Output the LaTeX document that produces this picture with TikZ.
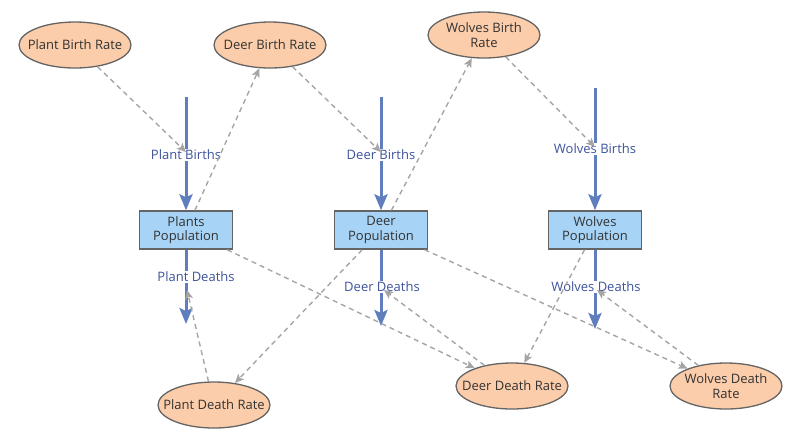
\documentclass[tikz,border=0pt]{standalone}
\usepackage{fontspec}
\setmainfont{Open Sans}
\usetikzlibrary{shapes.geometric,arrows.meta}
\definecolor{peach}{RGB}{252,205,170}
\definecolor{skyb}{RGB}{167,212,246}
\definecolor{edgeg}{RGB}{100,100,100}
\definecolor{flowb}{RGB}{96,125,190}
\definecolor{labb}{RGB}{62,84,155}
\definecolor{dashg}{RGB}{165,165,165}
\definecolor{txt}{RGB}{50,50,50}
\tikzset{
  rate/.style={ellipse,draw=edgeg,line width=1.3pt,fill=peach,minimum width=112pt,minimum height=46pt,inner xsep=-14pt,inner ysep=-6pt,align=center,text=txt,font=\fontsize{13}{14.5}\selectfont},
  stock/.style={rectangle,draw=edgeg,line width=1.5pt,fill=skyb,minimum width=93pt,minimum height=38pt,inner sep=0pt,align=center,text=txt,font=\fontsize{13}{14.5}\selectfont},
  flow/.style={draw=flowb,line width=3pt,-{Stealth[length=16pt,width=13pt,inset=3pt]}},
  flowlab/.style={fill=white,text=labb,inner sep=1pt,font=\fontsize{13}{14.5}\selectfont},
  link/.style={draw=dashg,line width=1.4pt,dash pattern=on 5pt off 4pt,-{Stealth[length=9pt,width=8pt,inset=2pt]}}
}
\begin{document}
\begin{tikzpicture}[x=1pt,y=-1pt]
\useasboundingbox (0,0) rectangle (800,440);
% rates
\node[rate] (pbr) at (75,45) {Plant Birth Rate};
\node[rate] (dbr) at (270,45) {Deer Birth Rate};
\node[rate] (wbr) at (484,35) {Wolves Birth\\Rate};
\node[rate] (pdr) at (214,405) {Plant Death Rate};
\node[rate] (ddr) at (512,386) {Deer Death Rate};
\node[rate] (wdr) at (726,386) {Wolves Death\\Rate};
% stocks
\node[stock] (pp) at (186,230) {Plants\\Population};
\node[stock] (dp) at (381,230) {Deer\\Population};
\node[stock] (wp) at (595,230) {Wolves\\Population};
% flow ends
\coordinate (pbtop) at (186,97);
\coordinate (dbtop) at (381,97);
\coordinate (wbtop) at (595,88);
\coordinate (pdend) at (186,324);
\coordinate (ddend) at (381,326);
\coordinate (wdend) at (595,329);
% valve points
\coordinate (pbv) at (186,152);
\coordinate (dbv) at (381,152);
\coordinate (wbv) at (595,147);
\coordinate (pdv) at (187,290);
\coordinate (ddv) at (384,290);
\coordinate (wdv) at (597,290);
% flows
\draw[flow] (pbtop) -- (pp.north);
\draw[flow] (dbtop) -- (dp.north);
\draw[flow] (wbtop) -- (wp.north);
\draw[flow] (pp.south) -- (pdend);
\draw[flow] (dp.south) -- (ddend);
\draw[flow] (wp.south) -- (wdend);
% flow labels
\node[flowlab] (pbl) at (186,155) {Plant Births};
\node[flowlab] (dbl) at (381,155) {Deer Births};
\node[flowlab] (wbl) at (595,149) {Wolves Births};
\node[flowlab] (pdl) at (196,277) {Plant Deaths};
\node[flowlab] (ddl) at (382,287) {Deer Deaths};
\node[flowlab] (wdl) at (596,287) {Wolves Deaths};
% links
\draw[link] (pbr) -- (pbv);
\draw[link] (pp) -- (dbr);
\draw[link] (dbr) -- (dbv);
\draw[link] (dp) -- (wbr);
\draw[link] (wbr) -- (wbv);
\draw[link] (pp) -- (ddr);
\draw[link] (pdr) -- (pdv);
\draw[link] (dp) -- (pdr);
\draw[link] (ddr) -- (ddv);
\draw[link] (dp) -- (wdr);
\draw[link] (wp) -- (ddr);
\draw[link] (wdr) -- (wdv);
\end{tikzpicture}
\end{document}
